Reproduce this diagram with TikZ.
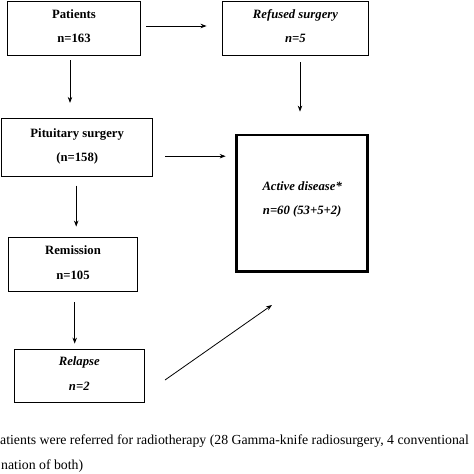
\documentclass[tikz,border=0pt]{standalone}
\usepackage{fontspec}
\setmainfont{Liberation Serif}
\usetikzlibrary{arrows.meta}

\begin{document}
\begin{tikzpicture}
  [x=1pt,y=-1pt,
   box/.style={draw,line width=0.9pt,rectangle,align=center,inner sep=0pt,
     font=\fontsize{12.7}{24.5}\selectfont\bfseries},
   ibox/.style={box,font=\fontsize{12.7}{24.5}\selectfont\bfseries\itshape},
   flow/.style={line width=0.8pt,-{Stealth[length=6pt,width=4.5pt]}},
   note/.style={anchor=west,inner sep=0pt,font=\fontsize{13.8}{16}\selectfont}]

  \useasboundingbox (0,0) rectangle (474,474);

  \node[box,minimum width=133.4pt,minimum height=54pt] (pat) at (74,28) {Patients\\[-0.5pt]n=163\\[-20.5pt]};
  \node[ibox,minimum width=145.6pt,minimum height=54pt] (ref) at (295.5,28) {Refused surgery\\n=5\\[-20.5pt]};
  \node[box,minimum width=151pt,minimum height=57.7pt] (pit) at (77.2,147.2) {Pituitary surgery\\(n=158)\\[-20.5pt]};
  \node[ibox,line width=2.7pt,minimum width=131pt,minimum height=136.7pt] (act) at (302.2,203.3) {Active disease*\\[-1pt]n=60 (53+5+2)\\[-14.5pt]};
  \node[box,minimum width=129.4pt,minimum height=54.2pt] (rem) at (73,264.6) {Remission\\n=105\\[-20.5pt]};
  \node[ibox,minimum width=130pt,minimum height=53.3pt] (rel) at (79.3,375.7) {Relapse\\n=2\\[-20.5pt]};

  \coordinate (relgo) at (165,380);
  \coordinate (acttip) at (272,305);

  \draw[flow,shorten <=5.3pt,shorten >=15.7pt] ([yshift=2pt]pat.east) -- ([yshift=2pt]pat.east -| ref.west);
  \draw[flow,shorten <=5pt,shorten >=15pt] ([xshift=-4pt]pat.south) -- ([xshift=-4pt]pat.south |- pit.north);
  \draw[flow,shorten <=7pt,shorten >=22pt] ([xshift=4.5pt]ref.south) -- ([xshift=4.5pt]ref.south |- act.north);
  \draw[flow,shorten <=12.3pt,shorten >=9.7pt] ([yshift=-9pt]pit.east) -- ([yshift=-9pt]pit.east -| act.west);
  \draw[flow,shorten <=9pt,shorten >=10.5pt] ([xshift=-1pt]pit.south) -- ([xshift=-1pt]pit.south |- rem.north);
  \draw[flow,shorten <=10pt,shorten >=5pt] ([xshift=1.7pt]rem.south) -- ([xshift=1.7pt]rem.south |- rel.north);
  \draw[flow] (relgo) -- (acttip);

  \node[note] (cap1) at (0,441) {atients were referred for radiotherapy (28 Gamma-knife radiosurgery, 4 conventional};
  \node[note] (cap2) at (1,466) {nation of both)};
\end{tikzpicture}
\end{document}
